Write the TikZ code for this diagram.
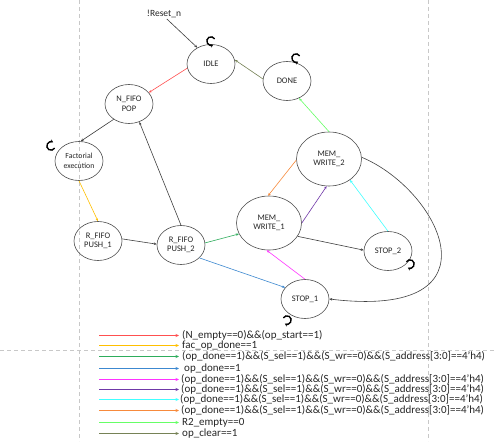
\documentclass[tikz,border=0pt]{standalone}
\usepackage{fontspec}
\setmainfont{Carlito}
\usetikzlibrary{arrows.meta,shapes.geometric}
\definecolor{cred}{HTML}{FF5050}
\definecolor{cyel}{HTML}{FFC000}
\definecolor{cgrn}{HTML}{2EAD5C}
\definecolor{cblu}{HTML}{3C88D0}
\definecolor{cmag}{HTML}{FF33FF}
\definecolor{cpur}{HTML}{7038A8}
\definecolor{ccya}{HTML}{40FFFF}
\definecolor{cora}{HTML}{F78A3C}
\definecolor{clgr}{HTML}{66FF66}
\definecolor{coli}{HTML}{768256}
\definecolor{cdash}{HTML}{C8C8C8}
\tikzset{
  st/.style={draw=black!70, ellipse, line width=0.6pt, minimum width=#1pt, inner sep=0pt, font=\fontsize{8.5}{9.5}\selectfont, align=center, text=black!85},
  sm/.style={st=48, minimum height=39pt},
  bg/.style={st=65, minimum height=54pt},
  tr/.style={-{Stealth[length=3pt,width=2.5pt]}, line width=0.6pt},
  leg/.style={-{Stealth[length=3.5pt,width=3pt]}, line width=1.2pt, shorten >=3pt},
  legt/.style={anchor=west, inner sep=0pt, font=\fontsize{11}{12}\selectfont, text=black!85},
  lp/.style={line width=1.4pt, -{Stealth[length=3pt,width=3.5pt]}},
  dsh/.style={draw=cdash, dashed, dash pattern=on 4pt off 3pt, line width=0.7pt}
}
\begin{document}
\begin{tikzpicture}[x=1pt,y=-1pt]
\useasboundingbox (0,0) rectangle (497,441);
\fill[white] (0,0) rectangle (497,441);
% dashed frame lines
\coordinate (d1a) at (79,0); \coordinate (d1b) at (79,441);
\coordinate (d2a) at (428,0); \coordinate (d2b) at (428,441);
\coordinate (d3a) at (0,350); \coordinate (d3b) at (497,350);
\draw[dsh] (d1a) -- (d1b);
\draw[dsh] (d2a) -- (d2b);
\draw[dsh] (d3a) -- (d3b);
% states
\node[sm] (idle) at (211,64) {IDLE};
\node[sm] (nff) at (129,104) {N\_FIFO\\POP};
\node[sm, font=\fontsize{7.8}{9.5}\selectfont] (fac) at (79,161) {Factorial\\execution};
\node[sm] (done) at (287,81) {DONE};
\node[bg] (mw2) at (329,159) {MEM\_\\WRITE\_2};
\node[bg] (mw1) at (269,223) {MEM\_\\WRITE\_1};
\node[sm] (stop2) at (388,251) {STOP\_2};
\node[sm] (stop1) at (305,299) {STOP\_1};
\node[sm] (rp1) at (98,241) {R\_FIFO\\PUSH\_1};
\node[sm] (rp2) at (181,245) {R\_FIFO\\PUSH\_2};
\node[font=\fontsize{9.5}{10}\selectfont, text=black!85, inner sep=1pt] (rst) at (164,14) {!Reset\_n};
% self loops
\draw[lp] ([shift={(-30:4.2)}]211,41) arc (-30:-300:4.2);
\draw[lp] ([shift={(-30:4.2)}]296,58) arc (-30:-300:4.2);
\draw[lp] ([shift={(30:4.2)}]51,146) arc (30:300:4.2);
\draw[lp] ([shift={(-150:4.2)}]410,264) arc (-150:120:4.2);
\draw[lp] ([shift={(-150:4.2)}]287,320) arc (-150:120:4.2);
% transitions
\draw[tr, black!75] (rst.-60) -- (idle.130);
\draw[tr, cred] (idle.190) -- (nff.30);
\draw[tr, black!75] (nff.225) -- (fac.85);
\draw[tr, cyel] (fac.270) -- (rp1.90);
\draw[tr, black!75] (rp1.5) -- (rp2.178);
\draw[tr, black!75] (rp2.90) -- (nff.-60);
\draw[tr, cgrn] (rp2.5) -- (mw1.200);
\draw[tr, cblu] (rp2.-35) -- (stop1.150);
\draw[tr, cmag] (stop1.90) -- (mw1.-95);
\draw[tr, cpur] (mw1.0) -- (mw2.-95);
\draw[tr, ccya] (stop2.90) -- (mw2.-45);
\draw[tr, cora] (mw2.182) -- (mw1.92);
\draw[tr, black!75] (mw1.-25) -- (stop2.178);
\draw[tr, black!75] (mw2.3) .. controls (440,190) and (505,320) .. (stop1.0);
\draw[tr, clgr] (mw2.90) -- (done.-55);
\draw[tr, coli] (done.175) -- (idle.10);
% legend
\node[legt] (lt1) at (182,335.5) {(N\_empty==0)\&\&(op\_start==1)};
\node[legt] (lt2) at (182,345.5) {fac\_op\_done==1};
\node[legt] (lt3) at (182,356.5) {(op\_done==1)\&\&(S\_sel==1)\&\&(S\_wr==0)\&\&(S\_address[3:0]==4'h4)};
\node[legt] (lt4) at (184,368.5) {op\_done==1};
\node[legt] (lt5) at (181,379.5) {(op\_done==1)\&\&(S\_sel==1)\&\&(S\_wr==0)\&\&(S\_address[3:0]==4'h4)};
\node[legt] (lt6) at (181,389.5) {(op\_done==1)\&\&(S\_sel==1)\&\&(S\_wr==0)\&\&(S\_address[3:0]==4'h4)};
\node[legt] (lt7) at (180,399.5) {(op\_done==1)\&\&(S\_sel==1)\&\&(S\_wr==0)\&\&(S\_address[3:0]==4'h4)};
\node[legt] (lt8) at (181,410.5) {(op\_done==1)\&\&(S\_sel==1)\&\&(S\_wr==0)\&\&(S\_address[3:0]==4'h4)};
\node[legt] (lt9) at (182,422.5) {R2\_empty==0};
\node[legt] (lt10) at (182,433.5) {op\_clear==1};
\coordinate (la1) at (99,335.5);
\coordinate (la2) at (99,345.5);
\coordinate (la3) at (99,356.5);
\coordinate (la4) at (99,368.5);
\coordinate (la5) at (99,379.5);
\coordinate (la6) at (99,389.5);
\coordinate (la7) at (99,399.5);
\coordinate (la8) at (99,410.5);
\coordinate (la9) at (99,422.5);
\coordinate (la10) at (99,433.5);
\draw[leg, cred] (la1) -- (la1 -| lt1.west);
\draw[leg, cyel] (la2) -- (la2 -| lt2.west);
\draw[leg, cgrn] (la3) -- (la3 -| lt3.west);
\draw[leg, cblu] (la4) -- (la4 -| lt1.west);
\draw[leg, cmag] (la5) -- (la5 -| lt1.west);
\draw[leg, cpur] (la6) -- (la6 -| lt1.west);
\draw[leg, ccya] (la7) -- (la7 -| lt1.west);
\draw[leg, cora] (la8) -- (la8 -| lt1.west);
\draw[leg, clgr] (la9) -- (la9 -| lt9.west);
\draw[leg, coli] (la10) -- (la10 -| lt10.west);
\end{tikzpicture}
\end{document}
